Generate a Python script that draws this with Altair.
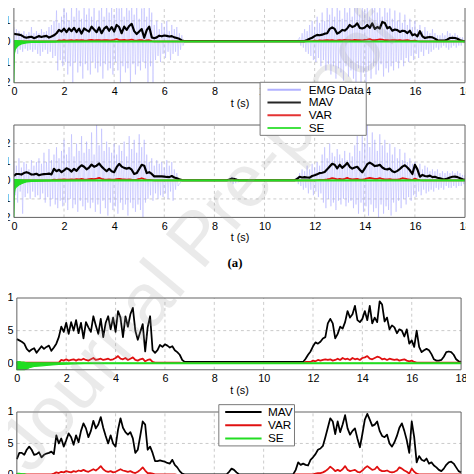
import altair as alt
import pandas as pd

FONT = "Liberation Sans"
RED = "#e01010"
GREEN = "#22dd22"

# ---------------- data (0.1 s grid) ----------------
# MAV of channel 1 (panels 1 and 3); segment A starts t=0.0, segment B starts t=11.2
MAV1_A = [0.037, 0.035, 0.033, 0.030, 0.022, 0.018, 0.021, 0.023, 0.016, 0.021,
          0.026, 0.022, 0.025, 0.027, 0.019, 0.024, 0.030, 0.040, 0.056, 0.048,
          0.062, 0.045, 0.063, 0.050, 0.066, 0.046, 0.062, 0.038, 0.063, 0.055,
          0.048, 0.072, 0.058, 0.045, 0.068, 0.040, 0.062, 0.072, 0.052, 0.070,
          0.048, 0.080, 0.070, 0.040, 0.072, 0.056, 0.075, 0.085, 0.050, 0.036,
          0.048, 0.060, 0.018, 0.055, 0.072, 0.020, 0.016, 0.020, 0.028, 0.025,
          0.029, 0.027, 0.024, 0.026, 0.020, 0.017, 0.013, 0.005, 0.002, 0.002]
MAV1_B = [0.002, 0.002, 0.002, 0.002, 0.002, 0.007, 0.013, 0.018,
          0.026, 0.032, 0.030, 0.033, 0.038, 0.040, 0.061, 0.068, 0.061, 0.038,
          0.045, 0.056, 0.053, 0.063, 0.080, 0.070, 0.075, 0.088, 0.066, 0.063,
          0.068, 0.080, 0.066, 0.088, 0.061, 0.070, 0.063, 0.095, 0.090, 0.064,
          0.070, 0.052, 0.058, 0.055, 0.046, 0.052, 0.050, 0.041, 0.052, 0.030,
          0.035, 0.025, 0.050, 0.025, 0.017, 0.020, 0.022, 0.020, 0.014, 0.006,
          0.004, 0.004, 0.005, 0.010, 0.017, 0.018, 0.017, 0.013, 0.006, 0.003, 0.002]

# MAV of channel 2 (panels 2 and 4); A from t=0.0, C from t=8.4, B from t=11.2
MAV2_A = [0.025, 0.035, 0.035, 0.032, 0.040, 0.045, 0.040, 0.032, 0.033, 0.036,
          0.028, 0.032, 0.034, 0.035, 0.037, 0.033, 0.063, 0.050, 0.058, 0.045,
          0.055, 0.066, 0.060, 0.048, 0.063, 0.052, 0.070, 0.082, 0.074, 0.060,
          0.070, 0.086, 0.074, 0.080, 0.092, 0.075, 0.062, 0.050, 0.063, 0.050,
          0.045, 0.072, 0.090, 0.075, 0.068, 0.064, 0.068, 0.058, 0.035, 0.040,
          0.062, 0.085, 0.080, 0.040, 0.045, 0.035, 0.022, 0.022, 0.023, 0.022,
          0.021, 0.019, 0.018, 0.024, 0.016, 0.012, 0.006, 0.002, 0.001, 0.001, 0.001]
MAV2_C = [0.001, 0.001, 0.005, 0.010, 0.008, 0.004, 0.001, 0.001]
MAV2_B = [0.001, 0.008, 0.020, 0.016, 0.018, 0.016, 0.015, 0.024,
          0.028, 0.033, 0.040, 0.042, 0.046, 0.060, 0.075, 0.090, 0.085, 0.065,
          0.085, 0.068, 0.080, 0.095, 0.074, 0.064, 0.070, 0.074, 0.058, 0.044,
          0.065, 0.088, 0.097, 0.088, 0.078, 0.080, 0.085, 0.070, 0.062, 0.060,
          0.064, 0.050, 0.045, 0.052, 0.062, 0.075, 0.082, 0.070, 0.055, 0.035,
          0.085, 0.060, 0.020, 0.030, 0.024, 0.022, 0.026, 0.018, 0.020, 0.015,
          0.012, 0.008, 0.006, 0.010, 0.016, 0.020, 0.021, 0.018, 0.012, 0.006, 0.004]

# VAR channel 1: A from t=0.0, B from t=11.6
VAR1_A = [0.001, 0.001, 0.001, 0.001, 0.001, 0.001, 0.001, 0.001, 0.001, 0.001,
          0.001, 0.001, 0.001, 0.001, 0.001, 0.001, 0.001, 0.001,
          0.005, 0.004, 0.006, 0.004, 0.005, 0.006, 0.004, 0.006, 0.005, 0.007, 0.005, 0.004,
          0.006, 0.008, 0.005, 0.006, 0.007, 0.005, 0.006, 0.007, 0.005, 0.006,
          0.008, 0.011, 0.007, 0.006, 0.008, 0.005, 0.007, 0.009, 0.005, 0.004,
          0.006, 0.007, 0.003, 0.005, 0.006, 0.002, 0.001, 0.001, 0.001, 0.001,
          0.001, 0.001, 0.001, 0.001, 0.001, 0.001, 0.001, 0.0, 0.0]
VAR1_B = [0.0, 0.002, 0.002, 0.002,
          0.004, 0.003, 0.005, 0.004, 0.005, 0.006, 0.005, 0.006, 0.004, 0.005,
          0.007, 0.005, 0.008, 0.006, 0.007, 0.005, 0.008, 0.006, 0.007, 0.005,
          0.008, 0.009, 0.011, 0.007, 0.006, 0.008, 0.010, 0.009, 0.006, 0.007,
          0.005, 0.007, 0.006, 0.005, 0.006, 0.004, 0.005, 0.006, 0.004, 0.003,
          0.004, 0.002, 0.001, 0.001, 0.001, 0.001, 0.001, 0.001, 0.001, 0.001,
          0.001, 0.001, 0.001, 0.001, 0.001, 0.001, 0.001, 0.001, 0.001, 0.001, 0.001]

# VAR channel 2: A from t=0.0, B from t=11.2
VAR2_A = [0.001, 0.001, 0.001, 0.001, 0.001, 0.001, 0.001, 0.001, 0.001, 0.001,
          0.001, 0.001, 0.001, 0.001, 0.001,
          0.002, 0.004, 0.003, 0.005, 0.004,
          0.006, 0.005, 0.004, 0.006, 0.005, 0.007, 0.006, 0.008, 0.006, 0.005,
          0.007, 0.009, 0.007, 0.010, 0.014, 0.009, 0.006, 0.005, 0.006, 0.004,
          0.005, 0.007, 0.009, 0.007, 0.006, 0.005, 0.006, 0.004, 0.003, 0.005,
          0.008, 0.012, 0.007, 0.003, 0.003, 0.002, 0.001, 0.001, 0.001, 0.001,
          0.001, 0.001, 0.001, 0.001, 0.001, 0.0, 0.0]
VAR2_B = [0.0, 0.001, 0.001, 0.001, 0.001, 0.001, 0.001, 0.001,
          0.001, 0.002, 0.003, 0.003, 0.004, 0.006, 0.009, 0.013, 0.010, 0.006,
          0.008, 0.006, 0.009, 0.014, 0.008, 0.006, 0.007, 0.008, 0.005, 0.004,
          0.007, 0.011, 0.014, 0.011, 0.008, 0.009, 0.013, 0.008, 0.006, 0.006,
          0.007, 0.005, 0.004, 0.005, 0.007, 0.012, 0.010, 0.007, 0.005, 0.002,
          0.010, 0.005, 0.002, 0.001, 0.001, 0.001, 0.001, 0.001, 0.001, 0.001,
          0.001, 0.001, 0.001, 0.001, 0.001, 0.001, 0.001, 0.001, 0.001, 0.001, 0.001]

# SE (lower / upper edge of the fast-oscillating band)
SE_T = [0.0, 0.02, 0.05, 0.1, 0.2, 0.3, 0.4, 0.5, 0.7, 1.0, 1.3, 1.7, 2.2, 3.0, 18.0]
SE1_LO = [-0.2, -0.06, -0.04, -0.03, -0.018, -0.012, -0.009, -0.007, -0.005, -0.004,
          -0.003, -0.002, -0.001, 0.0, 0.0]
SE1_HI = [0.0, 0.002, 0.002, 0.002, 0.001, 0.001, 0.0, 0.0, 0.0, 0.0, 0.0, 0.0, 0.0, 0.0, 0.0]
SE2_LO = [-0.2, -0.07, -0.045, -0.035, -0.025, -0.018, -0.012, -0.008, -0.005, -0.004,
          -0.003, -0.002, -0.001, 0.0, 0.0]
SE2_HI = [0.0, 0.002, 0.002, 0.002, 0.001, 0.001, 0.0, 0.0, 0.0, 0.0, 0.0, 0.0, 0.0, 0.0, 0.0]

# raw EMG, per 0.1 s bin: positive peak then negative peak
EMG1_A_HI = [0.07, 0.06, 0.05, 0.04, 0.05, 0.035, 0.045, 0.07, 0.04, 0.05,
             0.04, 0.06, 0.045, 0.05, 0.07, 0.08, 0.10, 0.15, 0.09, 0.12,
             0.22, 0.14, 0.10, 0.18, 0.12, 0.20, 0.15, 0.11, 0.22, 0.13,
             0.16, 0.12, 0.22, 0.10, 0.15, 0.18, 0.12, 0.22, 0.14, 0.17,
             0.13, 0.22, 0.16, 0.22, 0.12, 0.20, 0.15, 0.22, 0.13, 0.18,
             0.11, 0.16, 0.22, 0.12, 0.19, 0.14, 0.08, 0.10, 0.06, 0.09,
             0.07, 0.10, 0.05, 0.08, 0.06, 0.07, 0.04, 0.03]
EMG1_A_LO = [-0.05, -0.06, -0.04, -0.05, -0.035, -0.045, -0.04, -0.05, -0.04, -0.06,
             -0.07, -0.05, -0.04, -0.06, -0.05, -0.08, -0.07, -0.14, -0.09, -0.12,
             -0.10, -0.16, -0.12, -0.22, -0.10, -0.15, -0.12, -0.18, -0.11, -0.14,
             -0.16, -0.10, -0.13, -0.15, -0.12, -0.18, -0.11, -0.14, -0.13, -0.16,
             -0.10, -0.14, -0.22, -0.12, -0.15, -0.13, -0.22, -0.11, -0.16, -0.12,
             -0.14, -0.10, -0.13, -0.22, -0.12, -0.22, -0.09, -0.07, -0.10, -0.06,
             -0.08, -0.05, -0.09, -0.06, -0.05, -0.07, -0.04, -0.02]
EMG1_B_HI = [0.02, 0.04, 0.06, 0.05, 0.08, 0.10,
             0.07, 0.12, 0.09, 0.14, 0.10, 0.22, 0.13, 0.18, 0.12, 0.22,
             0.15, 0.11, 0.20, 0.14, 0.22, 0.12, 0.17, 0.22, 0.13, 0.19,
             0.15, 0.22, 0.12, 0.18, 0.22, 0.14, 0.17, 0.12, 0.20, 0.14,
             0.16, 0.11, 0.15, 0.10, 0.14, 0.09, 0.13, 0.08, 0.11, 0.07,
             0.10, 0.06, 0.08, 0.05, 0.07, 0.05, 0.04, 0.06, 0.04, 0.03,
             0.03, 0.04, 0.03, 0.05, 0.04, 0.03, 0.04, 0.03, 0.02, 0.02]
EMG1_B_LO = [-0.02, -0.03, -0.05, -0.06, -0.07, -0.09,
             -0.10, -0.08, -0.12, -0.09, -0.14, -0.11, -0.16, -0.12, -0.18, -0.13,
             -0.15, -0.19, -0.12, -0.17, -0.14, -0.18, -0.22, -0.13, -0.22, -0.15,
             -0.22, -0.14, -0.18, -0.12, -0.16, -0.14, -0.11, -0.17, -0.13, -0.15,
             -0.12, -0.14, -0.10, -0.13, -0.09, -0.12, -0.08, -0.10, -0.07, -0.09,
             -0.06, -0.08, -0.05, -0.07, -0.04, -0.06, -0.05, -0.04, -0.03, -0.04,
             -0.03, -0.02, -0.03, -0.04, -0.03, -0.02, -0.03, -0.02, -0.02, -0.01]
EMG1_QUIET_T = [6.8, 11.3]
EMG1_QUIET_V = [0.0, 0.0]

EMG2_A_HI = [0.10, 0.08, 0.12, 0.07, 0.10, 0.09, 0.06, 0.11, 0.08, 0.10,
             0.12, 0.09, 0.15, 0.10, 0.17, 0.11, 0.14, 0.18, 0.12, 0.16,
             0.22, 0.14, 0.18, 0.25, 0.13, 0.20, 0.16, 0.24, 0.15, 0.21,
             0.17, 0.26, 0.14, 0.30, 0.19, 0.28, 0.16, 0.21, 0.18, 0.15,
             0.20, 0.14, 0.19, 0.16, 0.21, 0.13, 0.24, 0.17, 0.22, 0.15,
             0.25, 0.18, 0.22, 0.14, 0.10, 0.12, 0.08, 0.11, 0.09, 0.10,
             0.07, 0.11, 0.08, 0.10, 0.06, 0.04]
EMG2_A_LO = [-0.08, -0.12, -0.06, -0.18, -0.09, -0.07, -0.10, -0.06, -0.09, -0.08,
             -0.10, -0.07, -0.12, -0.09, -0.14, -0.10, -0.13, -0.15, -0.11, -0.14,
             -0.12, -0.16, -0.10, -0.15, -0.13, -0.17, -0.11, -0.14, -0.16, -0.12,
             -0.15, -0.12, -0.17, -0.13, -0.18, -0.11, -0.15, -0.19, -0.12, -0.16,
             -0.14, -0.18, -0.12, -0.16, -0.13, -0.19, -0.12, -0.15, -0.17, -0.13,
             -0.16, -0.22, -0.12, -0.10, -0.08, -0.11, -0.07, -0.10, -0.08, -0.09,
             -0.07, -0.10, -0.06, -0.11, -0.05, -0.03]
EMG2_C_HI = [0.01, 0.02, 0.015, 0.01]
EMG2_C_LO = [-0.01, -0.02, -0.015, -0.01]
EMG2_B_HI = [0.02, 0.04, 0.06, 0.05, 0.08, 0.06, 0.09,
             0.07, 0.10, 0.08, 0.14, 0.18, 0.12, 0.20, 0.15, 0.13, 0.17,
             0.14, 0.12, 0.16, 0.11, 0.15, 0.13, 0.19, 0.24, 0.16, 0.28,
             0.20, 0.30, 0.18, 0.26, 0.22, 0.16, 0.25, 0.19, 0.22, 0.15,
             0.20, 0.14, 0.18, 0.12, 0.17, 0.11, 0.15, 0.10, 0.12, 0.09,
             0.10, 0.07, 0.09, 0.06, 0.08, 0.07, 0.05, 0.06, 0.05, 0.06,
             0.04, 0.05, 0.04, 0.05, 0.04, 0.05, 0.04, 0.05, 0.04, 0.03, 0.03]
EMG2_B_LO = [-0.02, -0.03, -0.05, -0.04, -0.07, -0.05, -0.08,
             -0.06, -0.09, -0.07, -0.12, -0.15, -0.10, -0.14, -0.12, -0.16, -0.11,
             -0.13, -0.10, -0.14, -0.12, -0.11, -0.15, -0.13, -0.18, -0.12, -0.17,
             -0.14, -0.19, -0.13, -0.17, -0.15, -0.22, -0.13, -0.18, -0.14, -0.16,
             -0.19, -0.12, -0.17, -0.11, -0.15, -0.10, -0.13, -0.09, -0.11, -0.08,
             -0.09, -0.06, -0.08, -0.05, -0.07, -0.06, -0.05, -0.06, -0.04, -0.05,
             -0.04, -0.05, -0.03, -0.04, -0.04, -0.03, -0.04, -0.03, -0.03, -0.02, -0.02]
EMG2_QUIET_T = [6.7, 8.5, 9.0, 11.25]
EMG2_QUIET_V = [0.0, 0.0, 0.0, 0.0]

T_TICKS = [0, 2, 4, 6, 8, 10, 12, 14, 16, 18]
GRID_T = [2, 4, 6, 8, 10, 12, 14, 16]
EMG_Y_TICKS = [-0.2, -0.1, 0, 0.1, 0.2]
FEAT_Y_TICKS = [0, 0.05, 0.1]
LEG1_LABELS = ["EMG Data", "MAV", "VAR", "SE"]
LEG2_LABELS = ["MAV", "VAR", "SE"]

# ---------------- layout (plot-area pixels) ----------------
PW, PH = 459, 490
PANELS = {
    1: dict(xr=[0, 459], yr=[84, 0], yd=[-0.2, 0.2], gy=[-0.1, 0, 0.1], yo=0),
    2: dict(xr=[0, 459], yr=[221, 127], yd=[-0.2, 0.3], gy=[-0.1, 0, 0.1, 0.2], yo=0),
    3: dict(xr=[3, 455], yr=[376, 303], yd=[-0.01, 0.1], gy=[0, 0.05], yo=-3),
    4: dict(xr=[3, 455], yr=[489.4, 419], yd=[-0.01, 0.1], gy=[0, 0.05], yo=-3),
}


def xs(p):
    return alt.Scale(domain=[0, 18], range=PANELS[p]["xr"], nice=False, zero=False)


def ys(p):
    return alt.Scale(domain=PANELS[p]["yd"], range=PANELS[p]["yr"], nice=False,
                     zero=False, clamp=True)


def seg(start_k, values):
    return [((start_k + i) / 10.0, v) for i, v in enumerate(values)]


def zig(start_k, hi, lo):
    rows = []
    for i, (h, l) in enumerate(zip(hi, lo)):
        t = (start_k + i) / 10.0
        rows.append((t, h))
        rows.append((round(t + 0.05, 3), l))
    return rows


def frame(rows, series):
    df = pd.DataFrame(rows, columns=["t", "v"])
    df["series"] = series
    return df


COLOR_SCALE = alt.Scale(domain=LEG1_LABELS, range=["#a4a4ff", "black", RED, GREEN])
STROKE_SCALE = alt.Scale(domain=LEG2_LABELS, range=["black", RED, GREEN])
LEG_COMMON = dict(orient="none", title=None, symbolSize=144, symbolStrokeWidth=2,
                  padding=1, strokeColor="#777777", fillColor="white",
                  labelFont=FONT, labelFontSize=12, labelColor="black",
                  labelLimit=300, columns=1, direction="vertical")
LEG1 = alt.Legend(legendX=250, legendY=83, symbolType="M-2.833,0H2.833",
                  symbolOffset=17, labelOffset=18, rowPadding=0, **LEG_COMMON)
LEG2 = alt.Legend(legendX=208, legendY=411, symbolType="M-3.083,0H3.083",
                  symbolOffset=17.5, labelOffset=18, rowPadding=0.5, **LEG_COMMON)


def line(p, df, width, opacity=1.0):
    if p in (1, 2):
        enc = {"color": alt.Color("series:N", scale=COLOR_SCALE, legend=LEG1)}
    else:
        enc = {"stroke": alt.Stroke("series:N", scale=STROKE_SCALE, legend=LEG2)}
    return alt.Chart(df).mark_line(strokeWidth=width, opacity=opacity, clip=True,
                                   strokeJoin="round").encode(
        x=alt.X("t:Q", scale=xs(p), axis=None),
        y=alt.Y("v:Q", scale=ys(p), axis=None),
        **enc,
    )


def se_area(p, lo, hi):
    df = pd.DataFrame({"t": SE_T, "lo": lo, "hi": hi})
    return alt.Chart(df).mark_area(fill=GREEN, stroke=GREEN, strokeWidth=1.2,
                                   clip=True).encode(
        x=alt.X("t:Q", scale=xs(p), axis=None),
        y=alt.Y("lo:Q", scale=ys(p), axis=None),
        y2="hi:Q",
    )


def grid(p):
    d0, d1 = PANELS[p]["yd"]
    rows = [dict(x=t, x2=t, y=d0, y2=d1) for t in GRID_T]
    rows += [dict(x=0, x2=18, y=g, y2=g) for g in PANELS[p]["gy"]]
    return alt.Chart(pd.DataFrame(rows)).mark_rule(
        color="#bdbdbd", strokeWidth=0.8, strokeDash=[3, 3]).encode(
        x=alt.X("x:Q", scale=xs(p), axis=None), x2="x2:Q",
        y=alt.Y("y:Q", scale=ys(p), axis=None), y2="y2:Q",
    )


def border(p):
    d0, d1 = PANELS[p]["yd"]
    df = pd.DataFrame([dict(x=0, x2=18, y=d0, y2=d1)])
    xaxis = alt.Axis(orient="bottom", offset=-(PH - PANELS[p]["yr"][0]),
                     values=T_TICKS, format="d", grid=False, ticks=False, tickSize=0,
                     domain=False, labelFont=FONT, labelFontSize=11, labelColor="black",
                     labelPadding=3, labelFlush=False, labelOverlap=False,
                     title="t (s)", titleFont=FONT, titleFontSize=11,
                     titleFontWeight="normal", titleColor="black", titlePadding=1)
    yaxis = alt.Axis(orient="left", offset=PANELS[p]["yo"],
                     values=EMG_Y_TICKS if p in (1, 2) else FEAT_Y_TICKS,
                     format="~g", grid=False, ticks=False, tickSize=0, domain=False,
                     labelFont=FONT, labelFontSize=11, labelColor="black",
                     labelPadding=4, labelFlush=False, labelOverlap=False, title=None)
    return alt.Chart(df).mark_rect(fillOpacity=0, stroke="#606060",
                                   strokeWidth=1).encode(
        x=alt.X("x:Q", scale=xs(p), axis=xaxis), x2="x2:Q",
        y=alt.Y("y:Q", scale=ys(p), axis=yaxis), y2="y2:Q",
    )


emg1 = frame(zig(0, EMG1_A_HI, EMG1_A_LO) + list(zip(EMG1_QUIET_T, EMG1_QUIET_V))
             + zig(114, EMG1_B_HI, EMG1_B_LO), "EMG Data")
emg2 = frame(zig(0, EMG2_A_HI, EMG2_A_LO) + list(zip(EMG2_QUIET_T[:2], EMG2_QUIET_V[:2]))
             + zig(86, EMG2_C_HI, EMG2_C_LO) + list(zip(EMG2_QUIET_T[2:], EMG2_QUIET_V[2:]))
             + zig(113, EMG2_B_HI, EMG2_B_LO), "EMG Data")
mav1 = frame(seg(0, MAV1_A) + seg(112, MAV1_B), "MAV")
mav2 = frame(seg(0, MAV2_A) + seg(84, MAV2_C) + seg(112, MAV2_B), "MAV")
var1 = frame(seg(0, VAR1_A) + seg(116, VAR1_B), "VAR")
var2 = frame(seg(0, VAR2_A) + seg(112, VAR2_B), "VAR")
se1 = frame(list(zip(SE_T, SE1_HI)), "SE")
se2 = frame(list(zip(SE_T, SE2_HI)), "SE")

layers = [grid(p) for p in (1, 2, 3, 4)]
layers += [line(1, emg1, 0.5, 0.85), line(1, mav1, 2.2), line(1, var1, 1.8),
           se_area(1, SE1_LO, SE1_HI), line(1, se1, 2)]
layers += [line(2, emg2, 0.5, 0.85), line(2, mav2, 2.2), line(2, var2, 1.8),
           se_area(2, SE2_LO, SE2_HI), line(2, se2, 2)]
layers += [line(3, mav1, 1.8), line(3, var1, 1.8), se_area(3, SE1_LO, SE1_HI), line(3, se1, 2)]
layers += [line(4, mav2, 1.8), line(4, var2, 1.8), se_area(4, SE2_LO, SE2_HI), line(4, se2, 2)]
layers += [border(p) for p in (1, 2, 3, 4)]

caption = alt.Chart(pd.DataFrame({"label": ["(a)"]})).mark_text(
    font="Liberation Serif", fontWeight="bold", fontSize=13, color="black",
    align="center", baseline="middle").encode(
    x=alt.value(225), y=alt.value(267), text="label:N")
watermark = alt.Chart(pd.DataFrame({"label": ["Journal Pre-proof"]})).mark_text(
    font=FONT, fontSize=76, color="#9a9a9a", opacity=0.2, angle=310,
    align="center", baseline="middle").encode(
    x=alt.value(188), y=alt.value(244), text="label:N")
layers += [caption, watermark]

chart = alt.layer(*layers).resolve_scale(x="independent", y="independent").properties(
    width=PW, height=PH,
    autosize=alt.AutoSizeParams(type="none"),
    padding={"left": 6, "top": -12, "right": 1, "bottom": -12},
    background="white",
).configure_view(stroke=None)

chart.save("out.html", embed_options={"renderer": "svg", "actions": False})
